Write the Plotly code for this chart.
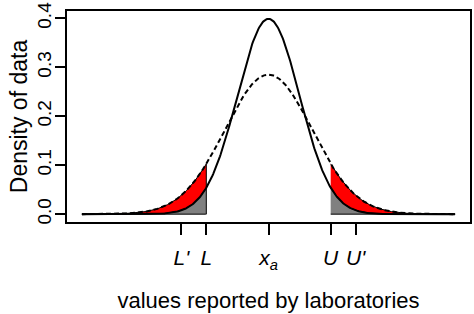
import numpy as np
import plotly.graph_objects as go

# Distribution parameters
mean_xa = 0.0
sd_reference = 1.0      # solid curve
sd_labs = 1.4           # dashed curve
x_min, x_max = -6.0, 6.0
L_val, U_val = -2.0, 2.0
Lp_val, Up_val = -2.8, 2.8

tick_vals = [Lp_val, L_val, mean_xa, U_val, Up_val]
tick_text = ["<i>L'</i>", "<i>L</i>", "<i>x</i><sub><i>a</i></sub>", "<i>U</i>", "<i>U'</i>"]
y_ticks = [0.0, 0.1, 0.2, 0.3, 0.4]
y_tick_text = ["0.0", "0.1", "0.2", "0.3", "0.4"]


def dnorm(x, m, s):
    return np.exp(-0.5 * ((x - m) / s) ** 2) / (s * np.sqrt(2 * np.pi))


x = np.linspace(x_min, x_max, 601)
y_solid = dnorm(x, mean_xa, sd_reference)
y_dash = dnorm(x, mean_xa, sd_labs)

fig = go.Figure()

for side in ("left", "right"):
    if side == "left":
        m = x <= L_val
    else:
        m = x >= U_val
    xs = x[m]
    ys = y_solid[m]
    yd = y_dash[m]
    # red area between dashed and solid
    fig.add_trace(go.Scatter(
        x=np.concatenate([xs, xs[::-1]]),
        y=np.concatenate([yd, ys[::-1]]),
        fill="toself", fillcolor="#ff0000", mode="lines",
        line=dict(color="black", width=1), hoverinfo="skip", showlegend=False))
    # gray area under solid
    fig.add_trace(go.Scatter(
        x=np.concatenate([xs, xs[::-1]]),
        y=np.concatenate([ys, np.zeros_like(xs)]),
        fill="toself", fillcolor="#808080", mode="lines",
        line=dict(color="black", width=1), hoverinfo="skip", showlegend=False))

fig.add_trace(go.Scatter(x=x, y=y_dash, mode="lines",
                         line=dict(color="black", width=2, dash="5px,3px"),
                         showlegend=False))
fig.add_trace(go.Scatter(x=x, y=y_solid, mode="lines",
                         line=dict(color="black", width=2),
                         showlegend=False))

fig.update_layout(
    width=474, height=314,
    margin=dict(l=67, r=2, t=7, b=92),
    plot_bgcolor="white", paper_bgcolor="white",
    font=dict(family="Liberation Sans, Arial, sans-serif", color="black"),
)
fig.update_xaxes(
    range=[-6.48, 6.48], showgrid=False, zeroline=False,
    showline=True, linecolor="black", linewidth=2, mirror=True,
    ticks="outside", ticklen=11, tickwidth=2, tickcolor="black",
    tickvals=tick_vals, ticktext=tick_text, tickfont=dict(size=21),
    ticklabelstandoff=5,
    title=dict(text="values reported by laboratories", font=dict(size=22), standoff=21),
)
fig.update_yaxes(
    range=[-0.016, 0.415], showgrid=False, zeroline=False,
    showline=True, linecolor="black", linewidth=2, mirror=True,
    ticks="outside", ticklen=10, tickwidth=2, tickcolor="black",
    tickvals=y_ticks, ticktext=y_tick_text, tickangle=-90, tickfont=dict(size=19),
    ticklabeloverflow="allow", ticklabelstandoff=-4,
    title=dict(text="Density of data", font=dict(size=23), standoff=0),
)

fig.write_html("out.html")
